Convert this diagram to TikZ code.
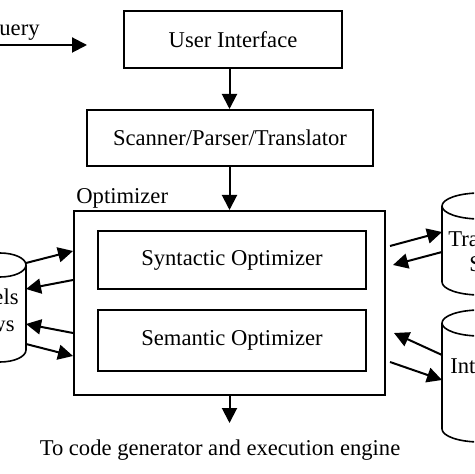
\documentclass[tikz,border=0pt]{standalone}
\usepackage{fontspec}
\setmainfont{Liberation Serif}
\usepackage{tikz}
\usetikzlibrary{positioning}
\usetikzlibrary{arrows.meta}

\begin{document}
\begin{tikzpicture}[x=0.5pt, y=0.5pt, font=\fontsize{11.3}{13.5}\selectfont]
        \tikzset{box/.style = {draw, line width=1pt, inner sep=0pt}}
        \tikzset{flow/.style = {-{Triangle[length=7.5pt, width=7.5pt]}, line width=1pt}}
        \tikzset{drum/.style = {draw, line width=0.8pt}}
        \tikzset{lbl/.style = {anchor=base west, inner sep=0pt}}

        \useasboundingbox (0,0) rectangle (474,-474);
        \clip (0,0) rectangle (474,-474);

        \node[box, minimum width=109pt, minimum height=28.5pt] (ui) at (233,-39.5) {User Interface};
        \node[box, minimum width=143pt, minimum height=28pt] (scan) at (230,-138) {Scanner/Parser/Translator};
        \node[box, minimum width=155.5pt, minimum height=92pt] (opt) at (229.5,-303) {};
        \node[box, minimum width=134pt, minimum height=29pt] (syn) at (232,-260) {Syntactic Optimizer};
        \node[box, minimum width=134pt, minimum height=30.5pt] (sem) at (232,-340.5) {Semantic Optimizer};
        \node[anchor=base west, inner sep=0pt] (optlbl) at (76,-204) {Optimizer};
        \node (eng) at (220,-450) {To code generator and execution engine};

        % query input
        \coordinate (qstart) at (0,-45);
        \coordinate (qend) at (87,-45);
        \node[anchor=base east, inner sep=0pt] (qry) at (40,-36) {uery};
        \draw[flow] (qstart) -- (qend);

        % main flow
        \coordinate (outend) at (229.5,-423);
        \draw[flow] (opt.north |- ui.south) -- (opt.north |- scan.north);
        \draw[flow] (opt.north |- scan.south) -- (opt.north);
        \draw[flow] (opt.south) -- (outend);

        % left store
        \draw[drum] (0,-265) ellipse (26 and 12);
        \draw[drum] (26,-265) -- (26,-350) arc (0:-180:26 and 12) -- (-26,-265);
        \coordinate (dl) at (26,-300);
        \node[lbl, anchor=base east] (dltop) at (19,-305) {els};
        \node[lbl, anchor=base east] (dlbot) at (15,-331) {ws};

        % right stores
        \draw[drum] (480,-206) ellipse (38 and 13);
        \draw[drum] (442,-206) -- (442,-282) arc (180:360:38 and 13) -- (518,-206);
        \draw[drum] (480,-323) ellipse (38 and 13);
        \draw[drum] (442,-323) -- (442,-429) arc (180:360:38 and 13) -- (518,-323);
        \coordinate (dr) at (442,-240);
        \coordinate (ds) at (442,-360);
        \node[lbl] (drtop) at (448,-247) {Tra};
        \node[lbl] (drbot) at (469,-272) {S};
        \node[lbl] (dstop) at (450,-373) {Inte};

        % arrows to the stores
        \draw[flow] (dl |- 0,-263) -- (opt.west |- 0,-251);
        \draw[flow] (opt.west |- 0,-280) -- (dl |- 0,-289);
        \draw[flow] (opt.west |- 0,-333) -- (dl |- 0,-324);
        \draw[flow] (dl |- 0,-344) -- (opt.west |- 0,-356);

        \draw[flow] ([xshift=2pt]opt.east |- 0,-246) -- (dr |- 0,-232);
        \draw[flow] (dr |- 0,-252) -- ([xshift=3.5pt]opt.east |- 0,-265);
        \draw[flow] (ds |- 0,-355) -- ([xshift=4pt]opt.east |- 0,-333);
        \draw[flow] ([xshift=2pt]opt.east |- 0,-362) -- (ds |- 0,-380);

    \end{tikzpicture}
\end{document}
